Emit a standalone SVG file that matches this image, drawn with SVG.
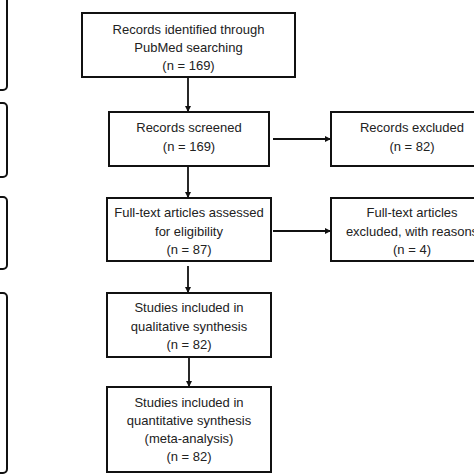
<svg xmlns="http://www.w3.org/2000/svg" width="474" height="474" viewBox="0 0 474 474">
<style>
.box{fill:#fff;stroke:#111;stroke-width:2}
.br{fill:none;stroke:#111;stroke-width:2}
.t{font-family:"Liberation Sans",Arial,sans-serif;font-size:13px;fill:#222;text-anchor:middle}
.c{stroke:#111;stroke-width:1.8;fill:none;marker-end:url(#ah)}
</style>
<defs>
<marker id="ah" markerWidth="6" markerHeight="6" refX="5" refY="3" orient="auto" markerUnits="userSpaceOnUse">
<path d="M0,0 L6,3 L0,6 Z" fill="#111"/>
</marker>
</defs>
<rect width="474" height="474" fill="#fff"/>
<g id="brackets">
<rect class="br" x="-20" y="-10" width="27" height="100" rx="4"/>
<rect class="br" x="-20" y="103" width="27" height="74" rx="4"/>
<rect class="br" x="-20" y="197" width="27" height="72" rx="4"/>
<rect class="br" x="-20" y="293" width="27" height="180" rx="4"/>
</g>
<g id="connectors">
<line class="c" x1="188" y1="78" x2="188" y2="111"/>
<line class="c" x1="188" y1="167" x2="188" y2="197"/>
<line class="c" x1="188" y1="266" x2="188" y2="292"/>
<line class="c" x1="189" y1="358" x2="189" y2="386"/>
<line class="c" x1="273" y1="139" x2="330" y2="139"/>
<line class="c" x1="273" y1="231" x2="330" y2="231"/>
</g>
<g id="n1">
<rect class="box" x="82" y="13" width="213" height="64"/>
<text class="t" x="188.5" y="34">Records identified through</text>
<text class="t" x="188.5" y="52">PubMed searching</text>
<text class="t" x="188.5" y="70">(n = 169)</text>
</g>
<g id="n2">
<rect class="box" x="109" y="112" width="160" height="54"/>
<text class="t" x="189" y="132">Records screened</text>
<text class="t" x="189" y="151">(n = 169)</text>
</g>
<g id="n3">
<rect class="box" x="331" y="112" width="162" height="54"/>
<text class="t" x="412" y="132">Records excluded</text>
<text class="t" x="412" y="151">(n = 82)</text>
</g>
<g id="n4">
<rect class="box" x="107" y="198" width="164" height="63"/>
<text class="t" x="189" y="217">Full-text articles assessed</text>
<text class="t" x="189" y="236">for eligibility</text>
<text class="t" x="189" y="254">(n = 87)</text>
</g>
<g id="n5">
<rect class="box" x="331" y="198" width="162" height="63"/>
<text class="t" x="412" y="217">Full-text articles</text>
<text class="t" x="412" y="236">excluded, with reasons</text>
<text class="t" x="412" y="254">(n = 4)</text>
</g>
<g id="n6">
<rect class="box" x="107" y="293" width="164" height="64"/>
<text class="t" x="189" y="312">Studies included in</text>
<text class="t" x="189" y="331">qualitative synthesis</text>
<text class="t" x="189" y="349">(n = 82)</text>
</g>
<g id="n7">
<rect class="box" x="107" y="387" width="164" height="85"/>
<text class="t" x="189" y="407">Studies included in</text>
<text class="t" x="189" y="425">quantitative synthesis</text>
<text class="t" x="189" y="443">(meta-analysis)</text>
<text class="t" x="189" y="461">(n = 82)</text>
</g>
</svg>
